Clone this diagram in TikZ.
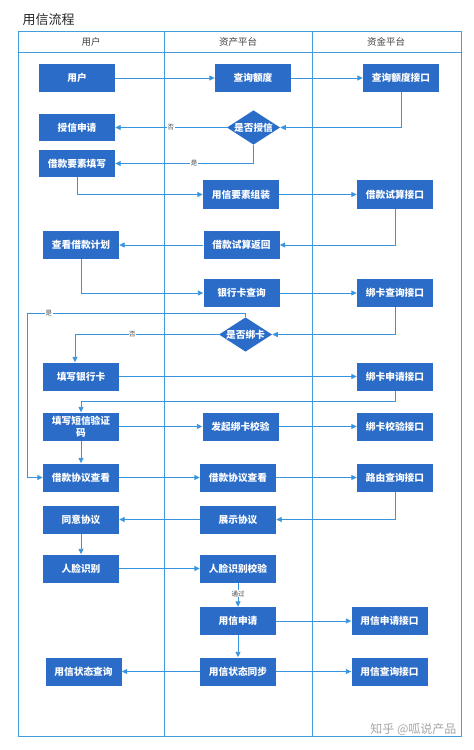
\documentclass[tikz,border=0pt]{standalone}
\usepackage{fontspec}
\setmainfont{Noto Sans CJK SC}
\usetikzlibrary{arrows.meta,shapes.geometric}
\definecolor{boxblue}{RGB}{42,108,200}
\definecolor{lineblue}{RGB}{56,148,222}
\definecolor{framec}{RGB}{66,156,222}
\tikzset{
  box/.style={draw=none,fill=boxblue,text=white,minimum width=76pt,minimum height=28pt,inner sep=1pt,font=\fontsize{9.7}{12.5}\selectfont\bfseries,align=center},
  dia/.style={diamond,fill=boxblue,text=white,minimum width=51pt,minimum height=33pt,inner sep=0pt,aspect=1.55,font=\fontsize{9.7}{11}\selectfont\bfseries},
  conn/.style={draw=lineblue,line width=0.9pt,-{Triangle[length=5.5pt,width=5pt]}},
  lbl/.style={fill=white,inner sep=0.5pt,text=black!70,font=\fontsize{6.5}{7}\selectfont},
  hdr/.style={text=black!75,font=\fontsize{9.5}{11}\selectfont},
}
\begin{document}
\begin{tikzpicture}[x=1pt,y=-1pt]
\useasboundingbox (0,0) rectangle (474,750);
% title
\node[anchor=west,text=black!85,font=\fontsize{13}{15}\selectfont] (title) at (19,20) {用信流程};
% frame
\draw[framec,line width=0.9pt] (18,31) rectangle (461,736);
\draw[framec,line width=0.9pt] (18,52) -- (461,52);
\draw[framec,line width=0.9pt] (164,31) -- (164,736);
\draw[framec,line width=0.9pt] (312,31) -- (312,736);
\node[hdr] (h1) at (91,42) {用户};
\node[hdr] (h2) at (238,42) {资产平台};
\node[hdr] (h3) at (386,42) {资金平台};
% nodes
\node[box] (u1) at (77,78) {用户};
\node[box] (a1) at (253,78) {查询额度};
\node[box] (f1) at (401,78) {查询额度接口};
\node[box,minimum height=27pt] (u2) at (77,127.5) {授信申请};
\node[dia] (d1) at (253.5,127.5) {是否授信};
\node[box,minimum height=27pt] (u3) at (77,163.5) {借款要素填写};
\node[box,minimum height=29pt] (a2) at (241,194.5) {用信要素组装};
\node[box,minimum height=29pt] (f2) at (395,194.5) {借款试算接口};
\node[box] (u4) at (81,245) {查看借款计划};
\node[box] (a3) at (241.5,245) {借款试算返回};
\node[box] (a4) at (241.5,293) {银行卡查询};
\node[box] (f3) at (395,293) {绑卡查询接口};
\node[dia,minimum width=49pt] (d2) at (245.5,334.5) {是否绑卡};
\node[box] (u5) at (81,376.5) {填写银行卡};
\node[box] (f4) at (395,376.5) {绑卡申请接口};
\node[box] (u6) at (81,426.5) {填写短信验证\\码};
\node[box] (a5) at (240.5,426.5) {发起绑卡校验};
\node[box] (f5) at (395,426.5) {绑卡校验接口};
\node[box] (u7) at (81,477.5) {借款协议查看};
\node[box] (a6) at (238,477.5) {借款协议查看};
\node[box] (f6) at (395,477.5) {路由查询接口};
\node[box] (u8) at (81,519.5) {同意协议};
\node[box] (a7) at (238,519.5) {展示协议};
\node[box] (u9) at (81,568.5) {人脸识别};
\node[box] (a8) at (238,568.5) {人脸识别校验};
\node[box] (a9) at (238,621) {用信申请};
\node[box] (f7) at (389.5,621) {用信申请接口};
\node[box] (a10) at (238,671.5) {用信状态同步};
\node[box] (f8) at (389.5,671.5) {用信查询接口};
\node[box] (u10) at (83.5,671.5) {用信状态查询};
% helper coordinates
\coordinate (c1) at (27,313);
\coordinate (c2) at (27,477.5);
\coordinate (c3) at (75,334.5);
\coordinate (c4) at (81,401);
% connectors
\draw[conn] (u1) -- (a1);
\draw[conn] (a1) -- (f1);
\draw[conn] (f1.south) |- (d1.east);
\draw[conn] (d1.west) -- node[lbl,pos=0.5] (n1) {否} (u2.east);
\draw[conn] (d1.south) |- node[lbl,pos=0.715] (n2) {是} (u3.east);
\draw[conn] (u3.south) |- (a2.west);
\draw[conn] (a2) -- (f2);
\draw[conn] (f2.south) |- (a3.east);
\draw[conn] (a3) -- (u4);
\draw[conn] (u4.south) |- (a4.west);
\draw[conn] (a4) -- (f3);
\draw[conn] (f3.south) |- (d2.east);
\draw[conn] (d2.west) -- node[lbl,pos=0.6] (n3) {否} (c3) -- (c3 |- u5.north);
\draw[conn] (d2.north) |- node[lbl,pos=0.95] (n4) {是} (c1) -- (c2) -- (u7.west);
\draw[conn] (u5) -- (f4);
\draw[conn] (f4.south) |- (c4) -- (u6.north);
\draw[conn] (u6) -- (a5);
\draw[conn] (a5) -- (f5);
\draw[conn] (u6) -- (u7);
\draw[conn] (u7) -- (a6);
\draw[conn] (a6) -- (f6);
\draw[conn] (f6.south) |- (a7.east);
\draw[conn] (a7) -- (u8);
\draw[conn] (u8) -- (u9);
\draw[conn] (u9) -- (a8);
\draw[conn] (a8) -- node[lbl,pos=0.45] (n5) {通过} (a9);
\draw[conn] (a9) -- (f7);
\draw[conn] (a9) -- (a10);
\draw[conn] (a10) -- (u10);
\draw[conn] (a10) -- (f8);
% watermark
\node[anchor=east,text=black!35,font=\fontsize{12}{14}\selectfont] (wm) at (460,729) {知乎 @呱说产品};
\end{tikzpicture}
\end{document}
